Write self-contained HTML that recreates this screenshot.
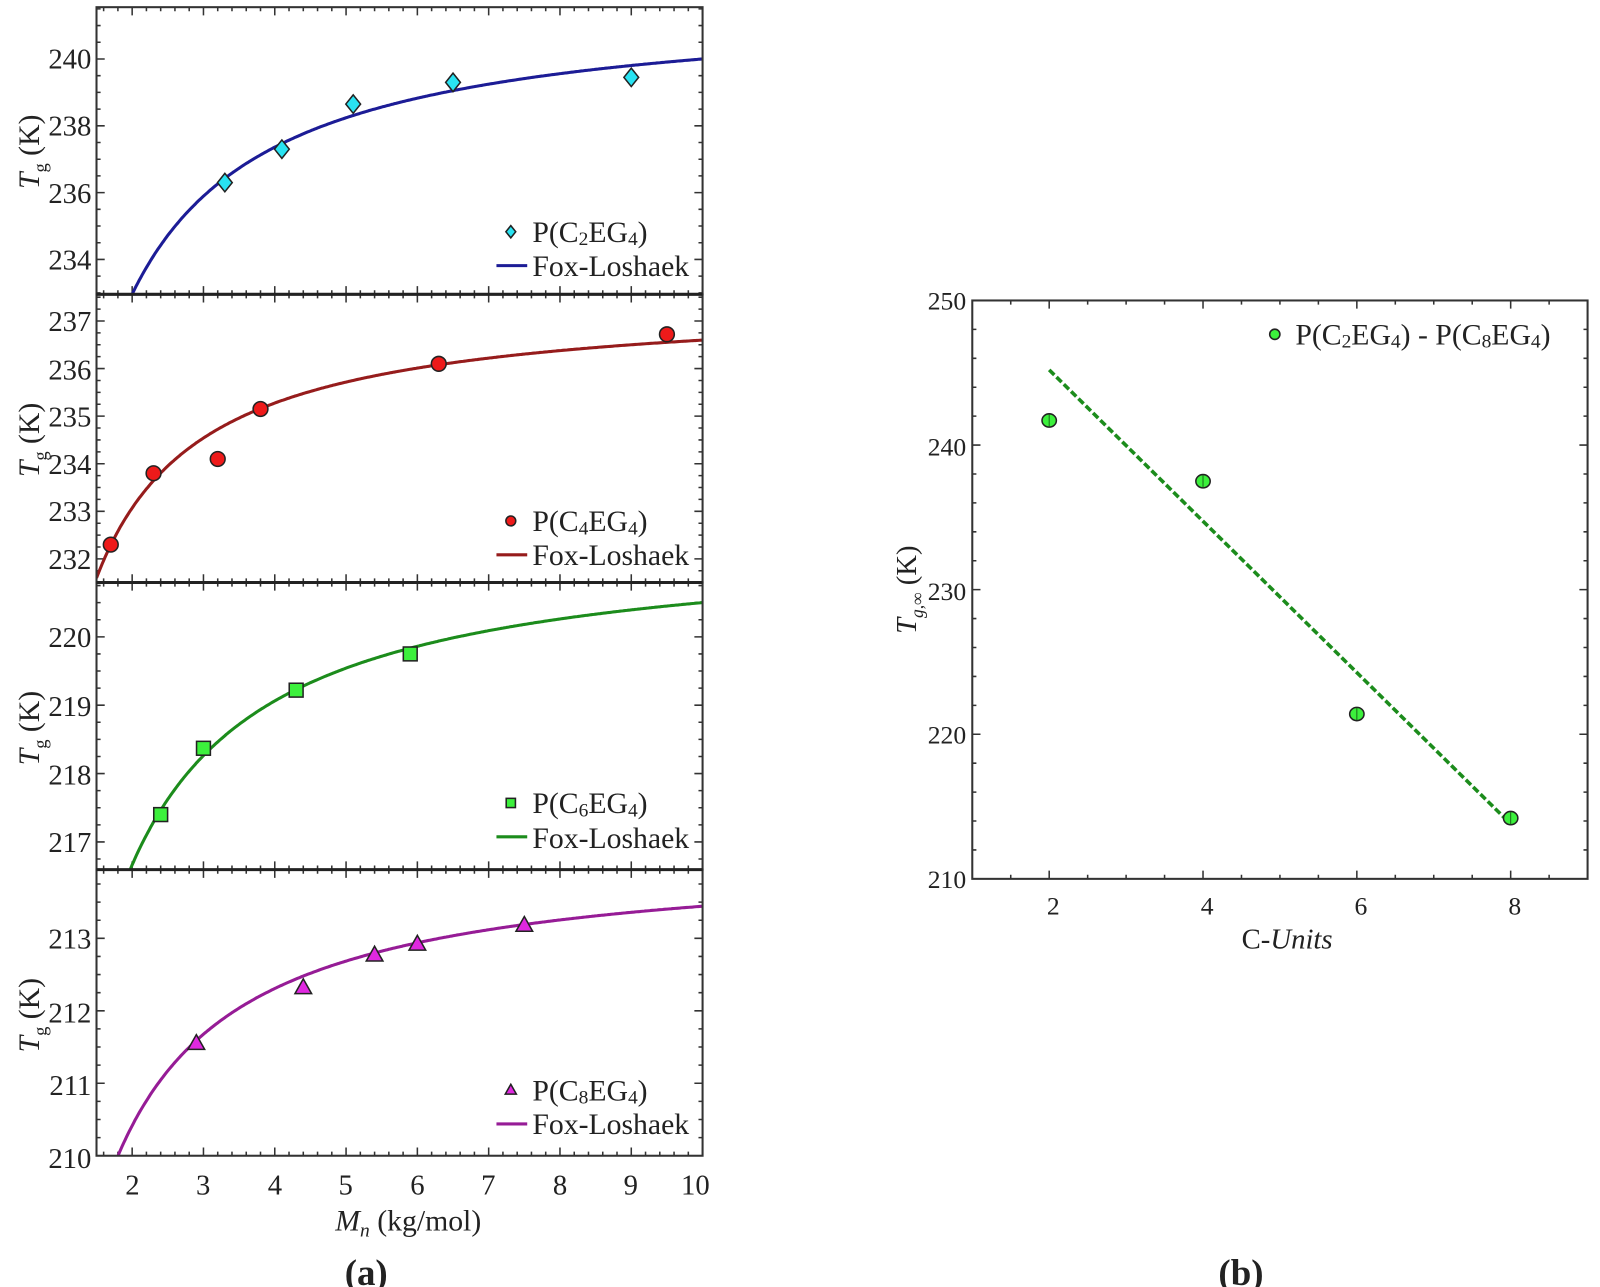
<!DOCTYPE html>
<html><head><meta charset="utf-8"><style>
html,body{margin:0;padding:0;background:#fff;}
svg{display:block;}
text{font-family:"Liberation Serif",serif;fill:#222;}
</style></head><body>
<svg id="s" width="1600" height="1287" viewBox="0 0 1560 1255" xmlns="http://www.w3.org/2000/svg">
<rect width="1560" height="1255" fill="#fff"/>
<g id="g"></g>
<g font-size="28" text-anchor="end">
<text x="89" y="67">240</text><text x="89" y="132">238</text><text x="89" y="198">236</text><text x="89" y="263">234</text>
<text x="89" y="323">237</text><text x="89" y="370">236</text><text x="89" y="416">235</text><text x="89" y="462">234</text><text x="89" y="508">233</text><text x="89" y="555">232</text>
<text x="89" y="631">220</text><text x="89" y="698">219</text><text x="89" y="765">218</text><text x="89" y="831">217</text>
<text x="89" y="925">213</text><text x="89" y="997">212</text><text x="89" y="1068">211</text><text x="89" y="1139">210</text>
</g>
<g font-size="28" text-anchor="middle">
<text x="129" y="1165">2</text><text x="198" y="1165">3</text><text x="268" y="1165">4</text><text x="337" y="1165">5</text><text x="407" y="1165">6</text><text x="476" y="1165">7</text><text x="546" y="1165">8</text><text x="615" y="1165">9</text><text x="678" y="1165">10</text>
</g>
<g font-size="29">
<text transform="translate(38,148) rotate(-90)" text-anchor="middle"><tspan font-style="italic">T</tspan><tspan font-size="18" dy="7">g</tspan><tspan dy="-7"> (K)</tspan></text>
<text transform="translate(38,429) rotate(-90)" text-anchor="middle"><tspan font-style="italic">T</tspan><tspan font-size="18" dy="7">g</tspan><tspan dy="-7"> (K)</tspan></text>
<text transform="translate(38,710) rotate(-90)" text-anchor="middle"><tspan font-style="italic">T</tspan><tspan font-size="18" dy="7">g</tspan><tspan dy="-7"> (K)</tspan></text>
<text transform="translate(38,990) rotate(-90)" text-anchor="middle"><tspan font-style="italic">T</tspan><tspan font-size="18" dy="7">g</tspan><tspan dy="-7"> (K)</tspan></text>
<text x="398" y="1200" text-anchor="middle"><tspan font-style="italic">M</tspan><tspan font-size="19" dy="6" font-style="italic">n</tspan><tspan dy="-6"> (kg/mol)</tspan></text>
</g>
<g font-size="29">
<text x="519" y="236">P(C<tspan font-size="19" dy="3">2</tspan><tspan dy="-3">EG</tspan><tspan font-size="19" dy="3">4</tspan><tspan dy="-3">)</tspan></text>
<text x="519" y="269">Fox-Loshaek</text>
<text x="519" y="518">P(C<tspan font-size="19" dy="3">4</tspan><tspan dy="-3">EG</tspan><tspan font-size="19" dy="3">4</tspan><tspan dy="-3">)</tspan></text>
<text x="519" y="551">Fox-Loshaek</text>
<text x="519" y="793">P(C<tspan font-size="19" dy="3">6</tspan><tspan dy="-3">EG</tspan><tspan font-size="19" dy="3">4</tspan><tspan dy="-3">)</tspan></text>
<text x="519" y="827">Fox-Loshaek</text>
<text x="519" y="1073">P(C<tspan font-size="19" dy="3">8</tspan><tspan dy="-3">EG</tspan><tspan font-size="19" dy="3">4</tspan><tspan dy="-3">)</tspan></text>
<text x="519" y="1106">Fox-Loshaek</text>
</g>
<text x="357" y="1253" font-size="36" font-weight="bold" text-anchor="middle">(a)</text>
<g font-size="25" text-anchor="end">
<text x="942" y="302">250</text><text x="942" y="444">240</text><text x="942" y="585">230</text><text x="942" y="725">220</text><text x="942" y="866">210</text>
</g>
<g font-size="25" text-anchor="middle">
<text x="1027" y="892">2</text><text x="1177" y="892">4</text><text x="1327" y="892">6</text><text x="1477" y="892">8</text>
</g>
<text x="1255" y="925" font-size="28" text-anchor="middle">C-<tspan font-style="italic">Units</tspan></text>
<text transform="translate(893,575) rotate(-90)" font-size="28" text-anchor="middle"><tspan font-style="italic">T</tspan><tspan font-size="17" dy="7" font-style="italic">g,∞</tspan><tspan dy="-7"> (K)</tspan></text>
<text x="1263" y="336" font-size="29">P(C<tspan font-size="19" dy="3">2</tspan><tspan dy="-3">EG</tspan><tspan font-size="19" dy="3">4</tspan><tspan dy="-3">) - P(C</tspan><tspan font-size="19" dy="3">8</tspan><tspan dy="-3">EG</tspan><tspan font-size="19" dy="3">4</tspan><tspan dy="-3">)</tspan></text>
<text x="1210" y="1253" font-size="36" font-weight="bold" text-anchor="middle">(b)</text>
</svg>
<script>
(function(){
var g=document.getElementById('g');var NS='http://www.w3.org/2000/svg';
function el(t,a){var e=document.createElementNS(NS,t);for(var k in a)e.setAttribute(k,a[k]);g.appendChild(e);return e;}
var L=94,R=685;function X(m){return L+(m-1.5)*(R-L)/8.5;}
var panels=[
 {top:7,bot:287,y1:240,p1:57.5,y2:234,p2:253,Ti:241.76,K:17.6,col:'#1c1c96',mk:'d',mc:'#29e3f2',
  pts:[[3.3,236.3],[4.1,237.3],[5.1,238.65],[6.5,239.3],[9,239.45]],ly:226,maj:2,min:0.5},
 {top:287,bot:568,y1:237,p1:313,y2:232,p2:545,Ti:237.48,K:8.82,col:'#961c1c',mk:'c',mc:'#ee1a1a',
  pts:[[1.7,232.3],[2.3,233.8],[3.2,234.1],[3.8,235.15],[6.3,236.1],[9.5,236.72]],ly:508,maj:1,min:0.25},
 {top:568,bot:848,y1:220,p1:621,y2:217,p2:821,Ti:221.46,K:9.59,col:'#1c8c1c',mk:'s',mc:'#3cf03c',
  pts:[[2.4,217.4],[3,218.37],[4.3,219.22],[5.9,219.75]],ly:783,maj:1,min:0.25},
 {top:848,bot:1127,y1:213,p1:915,y2:210,p2:1127,Ti:214.2,K:7.57,col:'#961c96',mk:'t',mc:'#e028e0',
  pts:[[2.9,211.55],[4.4,212.32],[5.4,212.77],[6,212.92],[7.5,213.18]],ly:1063,maj:1,min:0.25}];
panels.forEach(function(p){
 var s=(p.p2-p.p1)/(p.y2-p.y1);function Y(v){return p.p1+(v-p.y1)*s;}
 var vlo=p.y1+(p.bot-p.p1)/s, vhi=p.y1+(p.top-p.p1)/s;
 var clip='c'+p.top;var cp=el('clipPath',{id:clip});
 var r=document.createElementNS(NS,'rect');r.setAttribute('x',L);r.setAttribute('y',p.top);r.setAttribute('width',R-L);r.setAttribute('height',p.bot-p.top);cp.appendChild(r);
 var d='';
 for(var v=Math.ceil(vlo/p.min)*p.min;v<=vhi;v+=p.min){var y=Y(v);var isM=Math.abs(v/p.maj-Math.round(v/p.maj))<1e-6;var ln=isM?8:4;
  d+='M'+L+' '+y+'h'+ln+'M'+R+' '+y+'h-'+ln;}
 for(var m=1.6;m<=10.001;m+=0.2){var x=X(m);var isM=Math.abs(m-Math.round(m))<1e-6;var ln=isM?8:4;
  d+='M'+x+' '+p.bot+'v-'+ln+'M'+x+' '+p.top+'v'+ln;}
 el('path',{d:d,stroke:'#333','stroke-width':1.5,fill:'none'});
 var pd='';for(var m=1.5;m<=10.0001;m+=0.02){var v=p.Ti-p.K/m;pd+=(pd?'L':'M')+X(m).toFixed(1)+' '+Y(v).toFixed(1);}
 el('path',{d:pd,stroke:p.col,'stroke-width':3,fill:'none','clip-path':'url(#'+clip+')'});
 function mark(x,y,sz){
  if(p.mk=='d')el('path',{d:'M'+x+' '+(y-sz)+'L'+(x+sz*0.8)+' '+y+'L'+x+' '+(y+sz)+'L'+(x-sz*0.8)+' '+y+'Z',fill:p.mc,stroke:'#222','stroke-width':1.5});
  if(p.mk=='c')el('circle',{cx:x,cy:y,r:sz*0.8,fill:p.mc,stroke:'#222','stroke-width':1.5});
  if(p.mk=='s')el('rect',{x:x-sz*0.75,y:y-sz*0.75,width:sz*1.5,height:sz*1.5,fill:p.mc,stroke:'#222','stroke-width':1.5});
  if(p.mk=='t')el('path',{d:'M'+x+' '+(y-sz*0.95)+'L'+(x+sz*0.9)+' '+(y+sz*0.65)+'L'+(x-sz*0.9)+' '+(y+sz*0.65)+'Z',fill:p.mc,stroke:'#222','stroke-width':1.5});
 }
 p.pts.forEach(function(q){mark(X(q[0]),Y(q[1]),9);});
 mark(498,p.ly,6);
 el('line',{x1:484,x2:514,y1:p.ly+33,y2:p.ly+33,stroke:p.col,'stroke-width':3});
 el('rect',{x:L,y:p.top,width:R-L,height:p.bot-p.top,fill:'none',stroke:'#333','stroke-width':2});
});
[287,568,848].forEach(function(y){el('line',{x1:L,x2:R,y1:y,y2:y,stroke:'#222','stroke-width':3});});
var L2=948,R2=1548,T2=293,B2=857;
function X2(c){return L2+(c-1)*(R2-L2)/8;}function Y2(v){return B2-(v-210)*(B2-T2)/40;}
var d='';
for(var v=212;v<250;v+=2){var y=Y2(v);var ln=(v%10==0)?8:4;d+='M'+L2+' '+y+'h'+ln+'M'+R2+' '+y+'h-'+ln;}
for(var c=1.5;c<9;c+=0.5){var x=X2(c);var ln=(c%2==0)?8:4;d+='M'+x+' '+B2+'v-'+ln+'M'+x+' '+T2+'v'+ln;}
el('path',{d:d,stroke:'#333','stroke-width':1.5,fill:'none'});
el('line',{x1:X2(2),y1:Y2(245.2),x2:X2(8),y2:Y2(213.8),stroke:'#1c8c1c','stroke-width':3.5,'stroke-dasharray':'7,3'});
[[2,241.7],[4,237.5],[6,221.4],[8,214.2]].forEach(function(q){var x=X2(q[0]),y=Y2(q[1]);
 el('ellipse',{cx:x,cy:y,rx:7,ry:6.5,fill:'#3cf03c',stroke:'#222','stroke-width':1.5});
 el('line',{x1:x,x2:x,y1:y-6,y2:y+6,stroke:'#1a6a1a','stroke-width':1});});
el('circle',{cx:1243,cy:326,r:5,fill:'#3cf03c',stroke:'#222','stroke-width':1.5});
el('rect',{x:L2,y:T2,width:R2-L2,height:B2-T2,fill:'none',stroke:'#333','stroke-width':2});
})();
</script>
</body></html>
